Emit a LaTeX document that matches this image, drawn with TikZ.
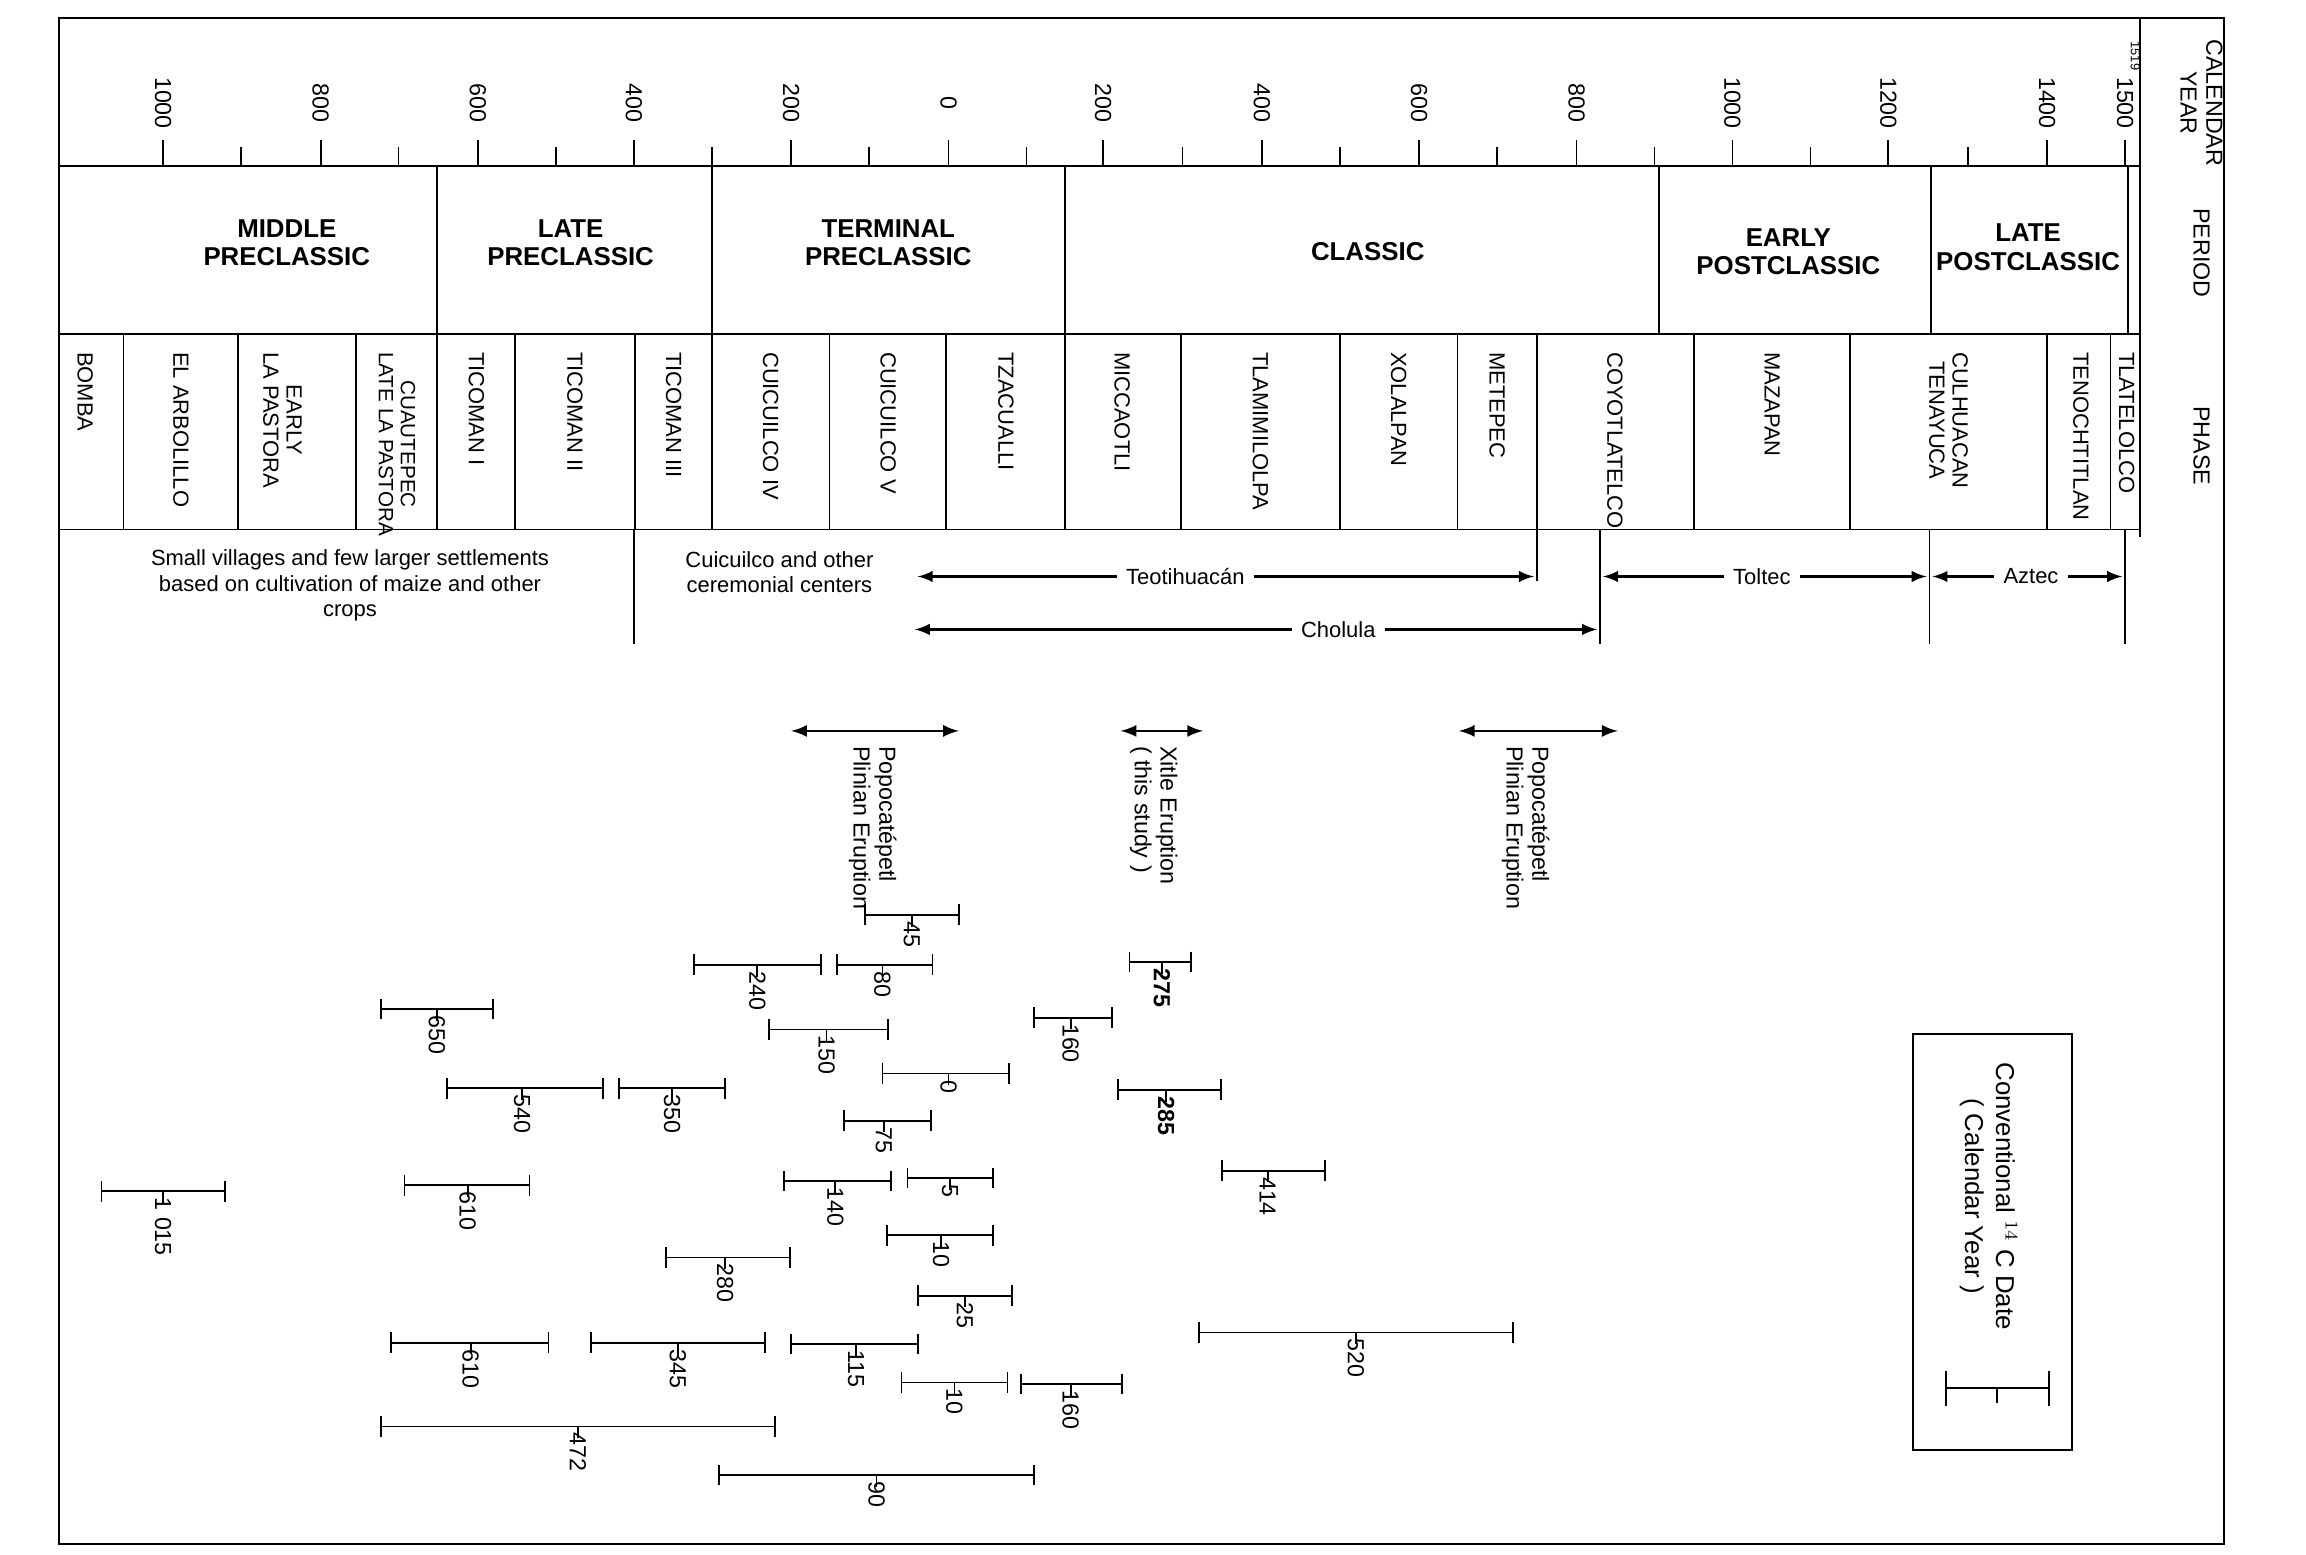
\documentclass[tikz,border=0pt]{standalone}
\usepackage{fontspec}
\setmainfont{Liberation Sans}
\usetikzlibrary{arrows}
\newcommand{\errbar}[5]{% x1, x2, y, centre, label
  \draw (#1,#3-7) -- (#1,#3+7);
  \draw (#2,#3-7) -- (#2,#3+7);
  \draw (#1,#3) -- (#2,#3);
  \draw (#4,#3) -- (#4,#3+8);
  \node[rot, anchor=west] at (#4,#3+2) {#5};
}
\begin{document}
\begin{tikzpicture}[x=0.02cm, y=-0.02cm, >=latex, line width=0.7pt,
  rot/.style={rotate=-90, font=\fontsize{9}{10}\selectfont, inner sep=1pt},
  period/.style={font=\fontsize{10}{11}\selectfont\bfseries, align=center},
  phase/.style={rotate=-90, font=\fontsize{8.5}{9}\selectfont, align=center, anchor=west},
  note/.style={font=\fontsize{8.5}{10}\selectfont, align=center},
  dblarrow/.style={<->, >=latex, line width=1.1pt}]
\useasboundingbox (0,0) rectangle (1568,1057);
\draw (40,12) rectangle (1512,1050);

% year axis
\draw (40,113) -- (1455,113);
\draw (1455,12) -- (1455,365);
\foreach \x/\l in {111/1000,218/800,325/600,431/400,538/200,645/0,750/200,858/400,965/600,1072/800,1178/1000,1284/1200,1392/1400,1445/1500} {
  \draw (\x,113) -- (\x,95);
  \node[rot] (yr-\x) at (\x,70) {\l};
}
\node[rotate=-90, font=\fontsize{5}{6}\selectfont] (yr-1519) at (1452,38) {1519};
\foreach \x in {164,271,378,484,591,698,804,911,1018,1125,1231,1338}
  \draw (\x,113) -- (\x,100);

% periods
\draw (40,227) -- (1455,227);
\foreach \x in {297,484,724,1128,1313,1447}
  \draw (\x,113) -- (\x,227);
\node[period] (p-mid) at (195,165) {MIDDLE\\PRECLASSIC};
\node[period] (p-late) at (388,165) {LATE\\PRECLASSIC};
\node[period] (p-term) at (604,165) {TERMINAL\\PRECLASSIC};
\node[period] (p-class) at (930,171) {CLASSIC};
\node[period] (p-epost) at (1216,171) {EARLY\\POSTCLASSIC};
\node[period] (p-lpost) at (1379,168) {LATE\\POSTCLASSIC};

% phases
\draw (40,360) -- (1455,360);
\foreach \x in {84,162,242,297,350,432,484,564,643,724,803,911,991,1045,1152,1258,1392,1435}
  \draw (\x,227) -- (\x,360);
\foreach \c/\t in {58/BOMBA,123/EL ARBOLILLO,192/EARLY\\LA PASTORA,324/TICOMAN I,391/TICOMAN II,458/TICOMAN III,524/CUICUILCO IV,604/CUICUILCO V,684/TZACUALLI,763/MICCAOTLI,857/TLAMIMILOLPA,951/XOLALPAN,1018/METEPEC,1098/COYOTLATELCO,1205/MAZAPAN,1325/CULHUACAN\\TENAYUCA,1415/TENOCHTITLAN,1446/TLATELOLCO}
  \node[phase] (ph-\c) at (\c,233) {\t};
\node[phase, font=\fontsize{8}{8.5}\selectfont] (ph-262) at (270,233) {CUAUTEPEC\\LATE LA PASTORA};

% row labels
\node[rot, align=center] (lab-year) at (1497,70) {CALENDAR\\YEAR};
\node[rot] (lab-period) at (1497,172) {PERIOD};
\node[rot] (lab-phase) at (1497,303) {PHASE};

% cultures
\foreach \x/\a/\b in {431/360/438,1045/360/395,1088/360/438,1312/360/438,1445/360/438}
  \draw (\x,\a) -- (\x,\b);
\node[note] (n-vill) at (238,398) {Small villages and few larger settlements\\based on  cultivation of maize and other\\crops};
\node[note] (n-cuic) at (530,389) {Cuicuilco and other\\ceremonial centers};
\node[note, fill=white] (n-teo) at (806,392) {Teotihuacán};
\draw[<-, line width=1pt] (624,392) -- (n-teo.west);
\draw[->, line width=1pt] (n-teo.east) -- (1043,392);
\node[note, fill=white] (n-cho) at (910,428) {Cholula};
\draw[<-, line width=1pt] (622,428) -- (n-cho.west);
\draw[->, line width=1pt] (n-cho.east) -- (1086,428);
\node[note, fill=white] (n-tol) at (1198,392) {Toltec};
\draw[<-, line width=1pt] (1090,392) -- (n-tol.west);
\draw[->, line width=1pt] (n-tol.east) -- (1310,392);
\node[note, fill=white] (n-azt) at (1381,392) {Aztec};
\draw[<-, line width=1pt] (1314,392) -- (n-azt.west);
\draw[->, line width=1pt] (n-azt.east) -- (1443,392);

% eruptions
\draw[dblarrow] (538,497) -- (652,497);
\draw[dblarrow] (762,497) -- (818,497);
\draw[dblarrow] (992,497) -- (1100,497);
\node[rot, anchor=north west, align=left] (er-1) at (612,505) {Popocatépetl\\Plinian Eruption};
\node[rot, anchor=north west, align=left] (er-2) at (803,505) {Xitle Eruption\\( this study )};
\node[rot, anchor=north west, align=left] (er-3) at (1056,505) {Popocatépetl\\Plinian Eruption};

% radiocarbon dates
\errbar{588}{652}{622}{620}{45}
\errbar{472}{558}{656}{515}{240}
\errbar{569}{634}{656}{600}{80}
\errbar{768}{810}{654}{790}{\textbf{275}}
\errbar{259}{335}{686}{297}{650}
\errbar{703}{756}{692}{728}{160}
\errbar{523}{604}{700}{562}{150}
\errbar{600}{686}{730}{645}{0}
\errbar{304}{410}{740}{355}{540}
\errbar{421}{493}{740}{457}{350}
\errbar{760}{830}{741}{793}{\textbf{285}}
\errbar{574}{633}{762}{601}{75}
\errbar{831}{901}{796}{862}{414}
\errbar{69}{153}{810}{111}{1 015}
\errbar{275}{360}{806}{318}{610}
\errbar{533}{606}{803}{568}{140}
\errbar{617}{675}{801}{646}{5}
\errbar{603}{675}{840}{640}{10}
\errbar{453}{537}{855}{493}{280}
\errbar{624}{688}{881}{656}{25}
\errbar{815}{1029}{906}{922}{520}
\errbar{266}{373}{913}{320}{610}
\errbar{402}{520}{913}{461}{345}
\errbar{538}{624}{914}{582}{115}
\errbar{613}{685}{940}{649}{10}
\errbar{694}{763}{941}{728}{160}
\errbar{259}{527}{970}{393}{472}
\errbar{489}{703}{1003}{596}{90}

% legend
\draw (1301,703) rectangle (1409,986);
\node[rot, anchor=north west, align=center, font=\fontsize{10}{12}\selectfont] (leg) at (1374,720) {Conventional  $^{14}$ C Date\\( Calendar Year )};
\draw (1323,932) -- (1323,956);
\draw (1393,932) -- (1393,956);
\draw (1323,944) -- (1393,944);
\draw (1358,944) -- (1358,954);
\end{tikzpicture}
\end{document}
